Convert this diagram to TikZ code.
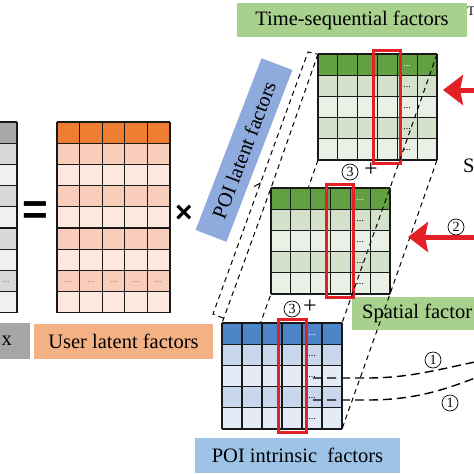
\documentclass[tikz,border=0pt]{standalone}
\usepackage{fontspec}
\setmainfont{Liberation Serif}
\newfontfamily\symbfont{Liberation Sans}
\usetikzlibrary{arrows.meta}

\definecolor{grayHead}{RGB}{168,168,168}
\definecolor{grayDark}{RGB}{216,216,216}
\definecolor{grayLite}{RGB}{240,240,240}
\definecolor{orgHead}{RGB}{237,125,49}
\definecolor{orgDark}{RGB}{248,206,186}
\definecolor{orgLite}{RGB}{252,232,222}
\definecolor{grnHead}{RGB}{98,160,66}
\definecolor{grnDark}{RGB}{212,226,204}
\definecolor{grnLite}{RGB}{233,240,229}
\definecolor{bluHead}{RGB}{76,134,200}
\definecolor{bluDark}{RGB}{200,215,236}
\definecolor{bluLite}{RGB}{228,235,246}
\definecolor{grayLbl}{RGB}{166,166,166}
\definecolor{orgLbl}{RGB}{244,177,131}
\definecolor{grnLbl}{RGB}{169,209,142}
\definecolor{bluLbl}{RGB}{157,195,230}
\definecolor{poiLbl}{RGB}{143,170,220}
\definecolor{redLine}{RGB}{226,32,38}

\begin{document}
\begin{tikzpicture}[x=1pt,y=-1pt,
  cellline/.style={black!90,line width=1.1pt},
  matframe/.style={anchor=north west,inner sep=0pt,outer sep=0pt},
  lbl/.style={font=\fontsize{20.5}{24}\selectfont,inner sep=0pt},
  labelbox/.style={lbl,inner xsep=10pt},
  dots/.style={font=\fontsize{10}{10}\selectfont,inner sep=0pt},
  persp/.style={dash pattern=on 5pt off 4pt,line width=1pt},
  curvy/.style={dash pattern=on 9pt off 5pt,line width=1.4pt},
  redbox/.style={draw=redLine,line width=3pt},
  numcirc/.style={circle,draw,line width=0.7pt,inner sep=0pt,minimum size=16pt,font=\fontsize{14}{14}\selectfont},
  redarrow/.style={draw=redLine,line width=5pt,-{Stealth[length=20pt,width=30pt,inset=3pt]}}]
\useasboundingbox (0,0) rectangle (474,474);
\fill[white] (0,0) rectangle (474,474);
\clip (0,0) rectangle (474,474);

% check-in matrix (cut at the left)
\foreach \r/\c in {0/grayHead,1/grayDark,2/grayLite,3/grayDark,4/grayLite,5/grayDark,6/grayLite,7/grayDark,8/grayLite}
  \fill[\c] (-93,{122+\r*21.2}) rectangle ++(110,21.2);
\foreach \i in {0,...,5} \draw[cellline] ({-93+\i*22},122) -- ++(0,190.8);
\foreach \j in {0,...,9} \draw[cellline] (-93,{122+\j*21.2}) -- ++(110,0);
\node[dots,gray] (gd) at (6,{122+7.55*21.2}) {...};
\node[font=\symbfont\bfseries\fontsize{44}{44}\selectfont,inner sep=0pt] (eq) at (35,213) {=};

% user latent factors
\foreach \r/\c in {0/orgHead,1/orgDark,2/orgLite,3/orgDark,4/orgLite,5/orgDark,6/orgLite,7/orgDark,8/orgLite}
  \fill[\c] (57,{122+\r*21.2}) rectangle ++(113,21.2);
\foreach \i in {0,...,5} \draw[cellline] ({57+\i*22.6},122) -- ++(0,190.8);
\foreach \j in {0,...,9} \draw[cellline] (57,{122+\j*21.2}) -- ++(113,0);
\foreach \i in {0,...,4} \node[dots,gray] (od\i) at ({68.3+\i*22.6},{122+7.55*21.2}) {...};
\node[font=\symbfont\bfseries\fontsize{30}{30}\selectfont,inner sep=0pt] (times) at (184,214) {×};

% labels
\node[labelbox,fill=grayLbl,anchor=east,minimum height=36pt,inner xsep=18pt] (matLbl) at (30,341) {x};
\node[labelbox,fill=orgLbl,minimum width=179pt,minimum height=35pt] (userLbl) at (123.5,341.5) {User latent factors};
\node[labelbox,fill=poiLbl,rotate=69,minimum width=184pt,minimum height=33pt] (poiLat) at (244,150) {POI latent factors};
\node[labelbox,fill=grnLbl,minimum width=230pt,minimum height=34pt] (timeLbl) at (352,20) {Time-sequential factors};
\node[labelbox,fill=grnLbl,anchor=west,minimum height=33pt] (spatLbl) at (352,313.5) {Spatial factor};
\node[labelbox,fill=bluLbl,minimum width=205pt,minimum height=35pt] (poiLbl) at (297.5,455.5) {POI intrinsic\ \ factors};
\node[lbl,anchor=west] (sCut) at (463,166) {S};
\node[lbl,font=\fontsize{13}{13}\selectfont,anchor=west] (tCut) at (467,11) {T};

% frames of the three factor matrices
\node[matframe,minimum width=119pt,minimum height=106pt] (timeM) at (318,54) {};
\node[matframe,minimum width=119pt,minimum height=106pt] (spatM) at (271,188) {};
\node[matframe,minimum width=120pt,minimum height=106pt] (poiM) at (222,323) {};
\draw[persp] (timeM.south west) -- (spatM.south west) -- (poiM.south west);

% time-sequential factors
\foreach \r/\c in {0/grnHead,1/grnDark,2/grnLite,3/grnDark,4/grnLite}
  \fill[\c] (318,{54+\r*21.2}) rectangle ++(119,21.2);
\foreach \i in {0,...,6} \draw[cellline] ({318+\i*19.83},54) -- ++(0,106);
\foreach \j in {0,...,5} \draw[cellline] (318,{54+\j*21.2}) -- ++(119,0);
\node[dots,white] (td0) at ({318+4.5*19.83},{54+0.55*21.2}) {...};
\foreach \r in {1,...,4} \node[dots] (td\r) at ({318+4.5*19.83},{54+(\r+0.55)*21.2}) {...};

% spatial factors
\foreach \r/\c in {0/grnHead,1/grnDark,2/grnLite,3/grnDark,4/grnLite}
  \fill[\c] (271,{188+\r*21.2}) rectangle ++(119,21.2);
\foreach \i in {0,...,6} \draw[cellline] ({271+\i*19.83},188) -- ++(0,106);
\foreach \j in {0,...,5} \draw[cellline] (271,{188+\j*21.2}) -- ++(119,0);
\node[dots,white] (sd0) at ({271+4.5*19.83},{188+0.55*21.2}) {...};
\foreach \r in {1,...,4} \node[dots] (sd\r) at ({271+4.5*19.83},{188+(\r+0.55)*21.2}) {...};

% POI intrinsic factors
\foreach \r/\c in {0/bluHead,1/bluDark,2/bluLite,3/bluDark,4/bluLite}
  \fill[\c] (222,{323+\r*21.2}) rectangle ++(120,21.2);
\foreach \i in {0,...,6} \draw[cellline] ({222+\i*20},323) -- ++(0,106);
\foreach \j in {0,...,5} \draw[cellline] (222,{323+\j*21.2}) -- ++(120,0);
\node[dots,white] (pd0) at ({222+4.5*20},{323+0.55*21.2}) {...};
\foreach \r in {1,...,4} \node[dots] (pd\r) at ({222+4.5*20},{323+(\r+0.55)*21.2}) {...};

% selected columns
\draw[redbox] (373.5,50) rectangle (400.3,163);
\draw[redbox] (326.5,184) rectangle (353.3,297);
\draw[redbox] (278,319) rectangle (306,432);

% perspective lines
\draw[persp] (timeM.north west) -- (spatM.north west) -- (poiM.north west);
\draw[persp] (timeM.north east) -- (spatM.north east) -- (poiM.north east);
\draw[persp] (timeM.south east) -- (spatM.south east) -- (poiM.south east);

% brace
\coordinate (braceBot) at (223,318);
\coordinate (braceTop) at (317,54);
\draw[persp] (braceBot) -- (213,314) -- (308,52) -- (braceTop);
\draw[line width=1pt] (260.5,183) -- (254,186.5);

% additions
\node[numcirc] (addA) at (350,172) {3};
\node[lbl,font=\fontsize{24}{24}\selectfont] (plusA) at (371,170) {+};
\node[numcirc] (addB) at (292,309) {3};
\node[lbl,font=\fontsize{24}{24}\selectfont] (plusB) at (310,307) {+};

% red arrows
\coordinate (arrTs) at (480,90);
\coordinate (arrTe) at (443,90);
\draw[redarrow] (arrTs) -- (arrTe);
\coordinate (arrSs) at (480,237);
\coordinate (arrSe) at (408,237);
\draw[redarrow] (arrSs) -- (arrSe);
\node[numcirc] (stepTwo) at (456,227) {2};

% dashed curves from POI intrinsic factors
\coordinate (curA) at (313,378);
\coordinate (curAe) at (480,361);
\coordinate (curB) at (313,400);
\coordinate (curBe) at (480,376);
\draw[curvy] (curA) -- (367,378) .. controls (410,378) and (440,369) .. (curAe);
\draw[curvy] (curB) -- (367,400) .. controls (410,400) and (440,392) .. (curBe);
\node[numcirc] (stepOneA) at (433,360) {1};
\node[numcirc] (stepOneB) at (450,403) {1};
\end{tikzpicture}
\end{document}
